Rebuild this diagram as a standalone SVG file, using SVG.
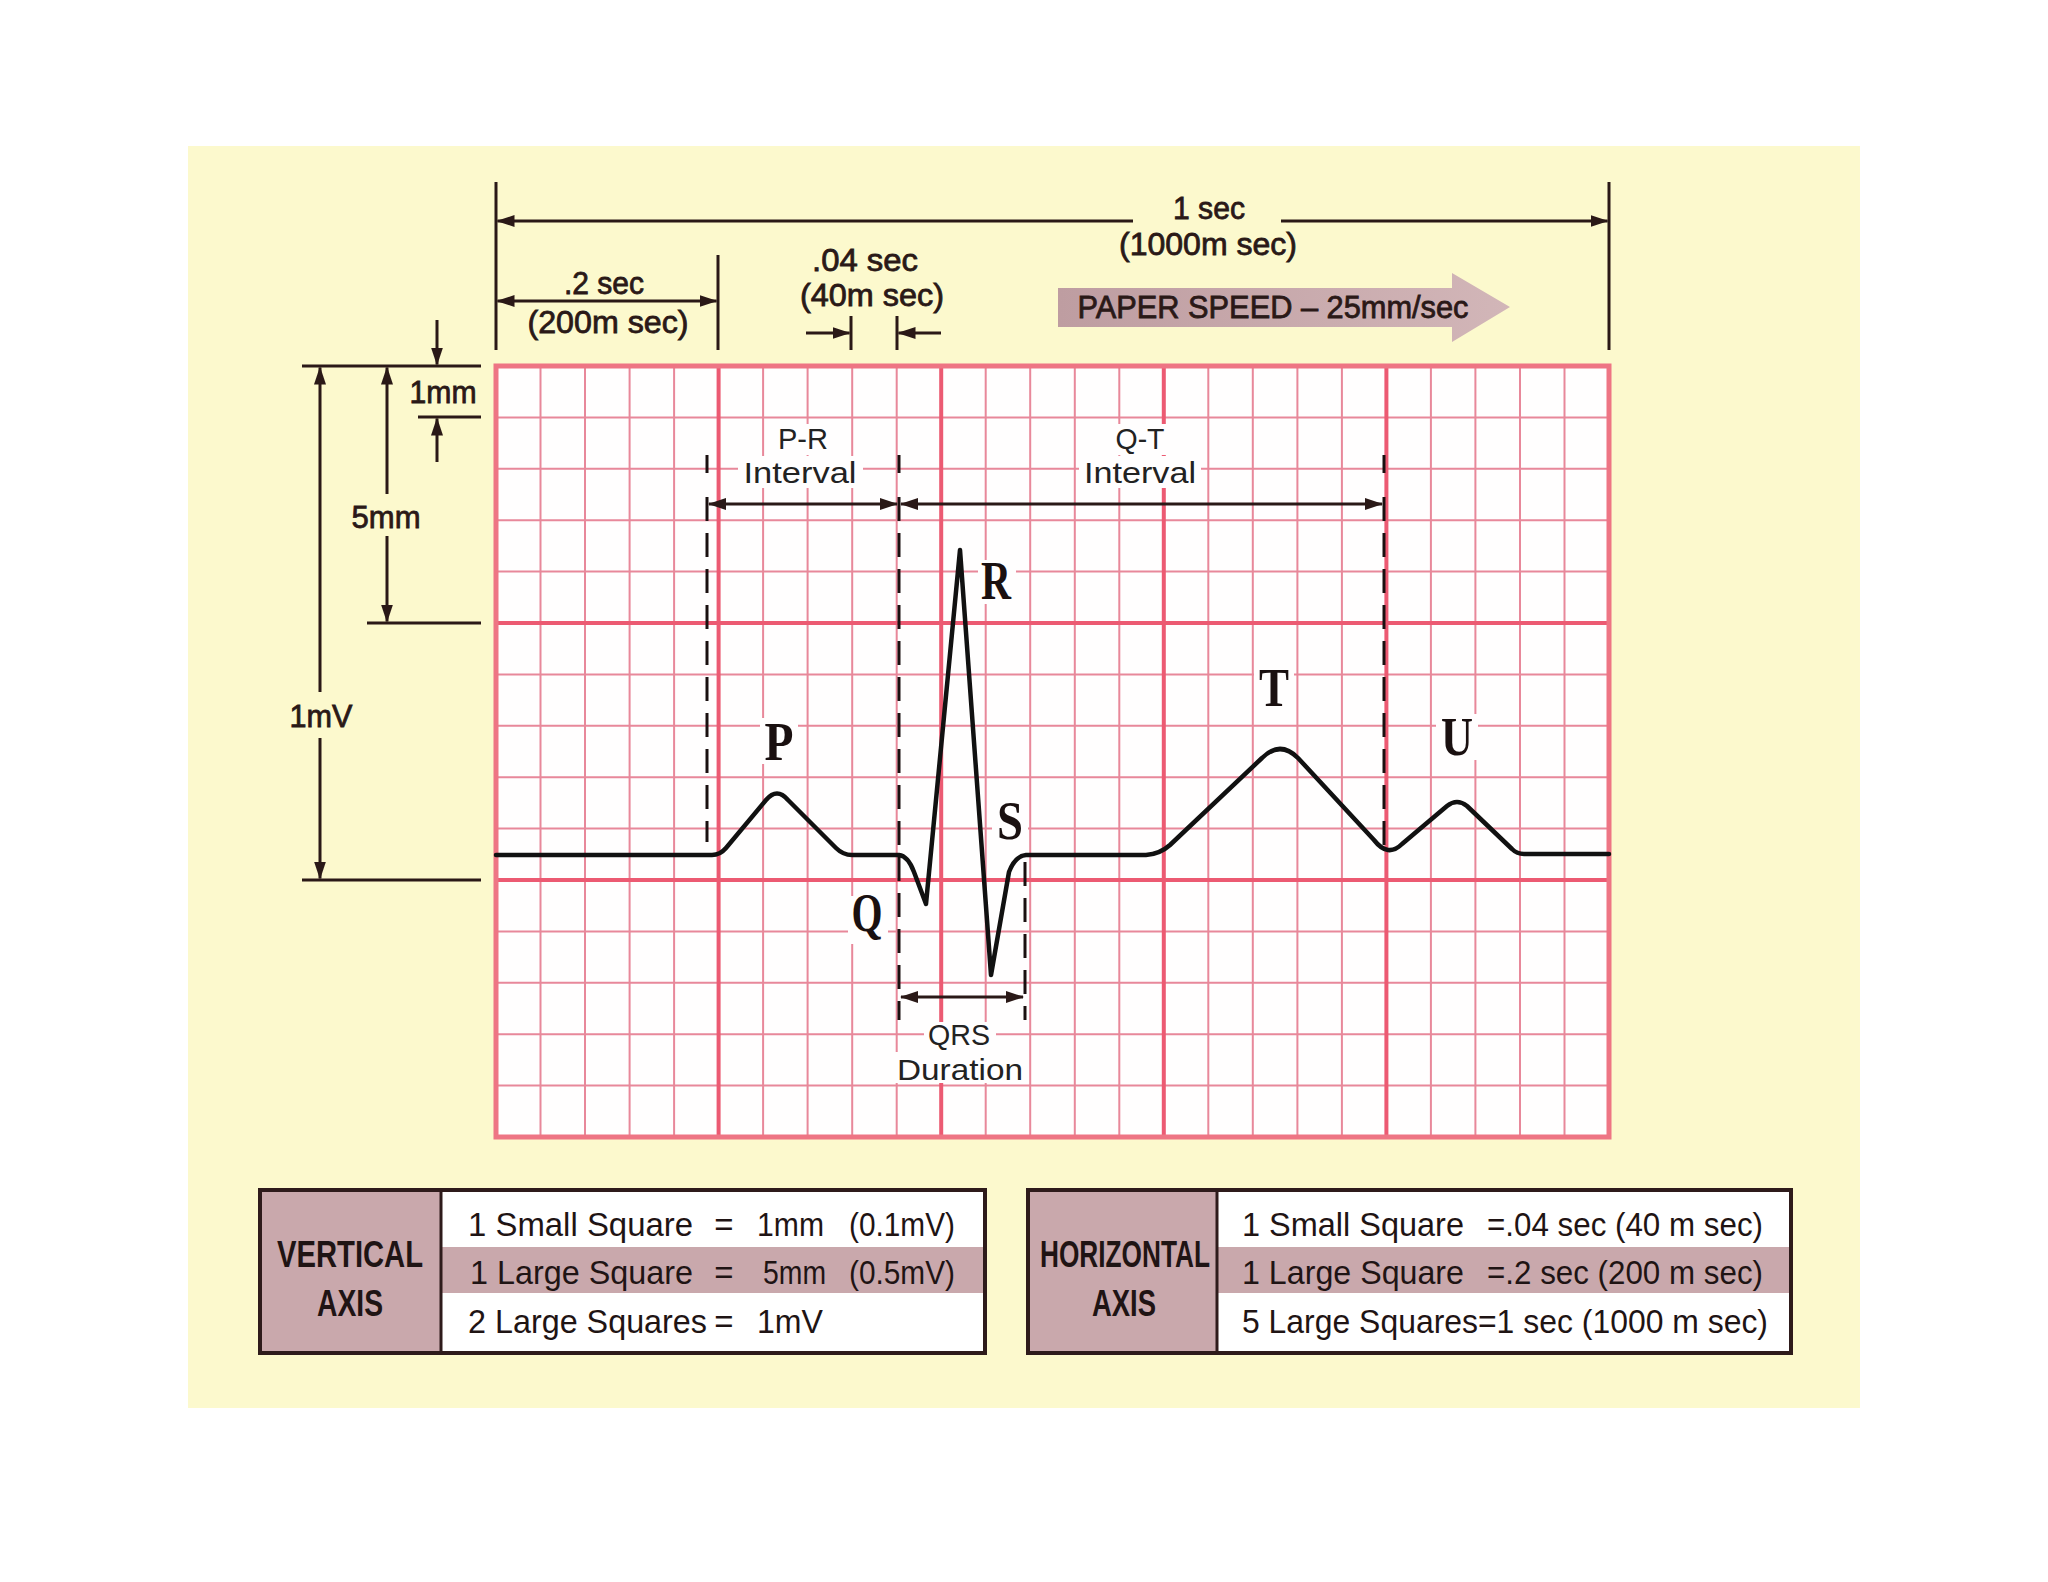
<svg xmlns="http://www.w3.org/2000/svg" width="2048" height="1582" viewBox="0 0 2048 1582">
<defs>
<style>
.dim{stroke:#2a1917;stroke-width:3;fill:none}
.dash{stroke:#1a1010;stroke-width:3;fill:none;stroke-dasharray:24 12}
.tick{stroke:#1a1010;stroke-width:3}
.sm{stroke:#E8889A;stroke-width:2;fill:none}
.lg{stroke:#EC5A72;stroke-width:4;fill:none}
.t{font-family:"Liberation Sans",Arial,sans-serif;fill:#2a1917;font-size:32px;stroke:#2a1917;stroke-width:0.8}
.lbl{font-family:"Liberation Sans",Arial,sans-serif;fill:#222;font-size:30px}
.wave{font-family:"Liberation Serif","Times New Roman",serif;font-weight:bold;fill:#1a1010;font-size:54px;text-anchor:middle}
.tb{font-family:"Liberation Sans",Arial,sans-serif;fill:#1f1414;font-size:33px}
.hd{font-family:"Liberation Sans",Arial,sans-serif;font-weight:bold;fill:#1f1414;font-size:36px;text-anchor:middle}
.mid{text-anchor:middle}
.bg{fill:#FFFEFE}
</style>
<marker id="ah" viewBox="0 0 18 12" refX="17" refY="6" markerWidth="18" markerHeight="12" markerUnits="userSpaceOnUse" orient="auto-start-reverse"><path d="M0,0 L18,6 L0,12 Z" fill="#2a1917"/></marker>
<linearGradient id="spd" x1="0" x2="1" y1="0" y2="0"><stop offset="0" stop-color="#BE9DA1"/><stop offset="1" stop-color="#D2B6B8"/></linearGradient>
</defs>

<rect x="0" y="0" width="2048" height="1582" fill="#FFFFFF"/>
<rect x="188" y="146" width="1672" height="1262" fill="#FCF9CD"/>

<!-- ECG paper grid -->
<g id="grid">
<rect x="496" y="366" width="1113" height="771" fill="#FFFEFE"/>
<path class="sm" d="M540.5 366V1137M585 366V1137M629.6 366V1137M674.1 366V1137M763.1 366V1137M807.6 366V1137M852.2 366V1137M896.7 366V1137M985.7 366V1137M1030.2 366V1137M1074.8 366V1137M1119.3 366V1137M1208.3 366V1137M1252.8 366V1137M1297.4 366V1137M1341.9 366V1137M1430.9 366V1137M1475.4 366V1137M1520 366V1137M1564.5 366V1137"/>
<path class="sm" d="M496 417.4H1609M496 468.8H1609M496 520.2H1609M496 571.6H1609M496 674.4H1609M496 725.8H1609M496 777.2H1609M496 828.6H1609M496 931.4H1609M496 982.8H1609M496 1034.2H1609M496 1085.6H1609"/>
<path class="lg" d="M718.6 366V1137M941.2 366V1137M1163.8 366V1137M1386.4 366V1137M496 623H1609M496 880H1609"/>
<rect x="496" y="366" width="1113" height="771" fill="none" stroke="#EE7584" stroke-width="5"/>
</g>

<!-- label backgrounds masking grid -->
<g id="label-bg">
<rect class="bg" x="774" y="424" width="58" height="31"/>
<rect class="bg" x="738" y="456" width="125" height="32"/>
<rect class="bg" x="1110" y="424" width="60" height="31"/>
<rect class="bg" x="1079" y="456" width="122" height="32"/>
<rect class="bg" x="760" y="718" width="38" height="46"/>
<rect class="bg" x="848" y="896" width="40" height="48"/>
<rect class="bg" x="978" y="560" width="38" height="44"/>
<rect class="bg" x="992" y="796" width="36" height="48"/>
<rect class="bg" x="1254" y="664" width="40" height="46"/>
<rect class="bg" x="1436" y="714" width="42" height="46"/>
<rect class="bg" x="924" y="1022" width="72" height="30"/>
<rect class="bg" x="893" y="1052" width="135" height="31"/>
</g>

<!-- connectors: dimension lines, arrows, interval markers -->
<g id="connectors">
<line class="dim" x1="496" y1="182" x2="496" y2="350"/>
<line class="dim" x1="1609" y1="182" x2="1609" y2="350"/>
<path class="dim" d="M497.5 221H1133" marker-start="url(#ah)"/>
<path class="dim" d="M1281 221H1607.5" marker-end="url(#ah)"/>
<line class="dim" x1="718" y1="255" x2="718" y2="350"/>
<path class="dim" d="M497.5 301H716.5" marker-start="url(#ah)" marker-end="url(#ah)"/>
<path class="dim" d="M806 333H849.5" marker-end="url(#ah)"/>
<line class="dim" x1="851" y1="316" x2="851" y2="350"/>
<line class="dim" x1="897" y1="316" x2="897" y2="350"/>
<path class="dim" d="M941 333H898.5" marker-end="url(#ah)"/>

<path class="dim" d="M302 366H481M367 623H481M302 880H481M418 417H481"/>
<path class="dim" d="M320 692V367.5" marker-end="url(#ah)"/>
<path class="dim" d="M320 738V878.5" marker-end="url(#ah)"/>
<path class="dim" d="M387 494V367.5" marker-end="url(#ah)"/>
<path class="dim" d="M387 536V621.5" marker-end="url(#ah)"/>
<path class="dim" d="M437 320V364.5" marker-end="url(#ah)"/>
<path class="dim" d="M437 462V418.5" marker-end="url(#ah)"/>

<path d="M1058 288H1452V273L1510 307L1452 342V327H1058Z" fill="url(#spd)"/>

<line class="tick" x1="707" y1="455" x2="707" y2="473"/>
<line class="tick" x1="899" y1="455" x2="899" y2="473"/>
<line class="tick" x1="1384" y1="455" x2="1384" y2="473"/>
<path class="dash" d="M707 497V842"/>
<path class="dash" d="M899 497V1020"/>
<path class="dash" d="M1025 862V1020"/>
<path class="dash" d="M1384 497V849"/>
<path class="dim" d="M709 504H897" marker-start="url(#ah)" marker-end="url(#ah)"/>
<path class="dim" d="M901 504H1382" marker-start="url(#ah)" marker-end="url(#ah)"/>
<path class="dim" d="M901 997H1023" marker-start="url(#ah)" marker-end="url(#ah)"/>
</g>

<!-- ECG trace -->
<g id="ecg-trace">
<path d="M496 855H712Q720 855 726 848L766 800Q777 787 788 800L836 848Q843 855 852 855H899Q908 856 914 872L926 904L960 550L991 975L1009 872Q1015 856 1026 855H1146Q1160 854 1170 845L1262 758Q1280 740 1298 758L1374 840Q1388 858 1402 844L1447 806Q1457 798 1467 806L1512 849Q1517 854 1524 854H1609" fill="none" stroke="#111" stroke-width="4.5" stroke-linejoin="round" stroke-linecap="round"/>
</g>

<!-- top labels -->
<g id="label-1sec">
<text class="t mid" x="1209" y="219" textLength="72" lengthAdjust="spacingAndGlyphs">1 sec</text>
<text class="t mid" x="1208" y="255" textLength="178" lengthAdjust="spacingAndGlyphs">(1000m sec)</text>
</g>
<g id="label-04sec">
<text class="t mid" x="865" y="271" textLength="106" lengthAdjust="spacingAndGlyphs">.04 sec</text>
<text class="t mid" x="872" y="306" textLength="144" lengthAdjust="spacingAndGlyphs">(40m sec)</text>
</g>
<g id="label-2sec">
<text class="t mid" x="604" y="294" textLength="80" lengthAdjust="spacingAndGlyphs">.2 sec</text>
<text class="t mid" x="608" y="333" textLength="161" lengthAdjust="spacingAndGlyphs">(200m sec)</text>
</g>
<g id="label-paper-speed">
<text class="t mid" x="1273" y="318" font-size="31" textLength="391" lengthAdjust="spacingAndGlyphs">PAPER SPEED – 25mm/sec</text>
</g>
<g id="label-1mm"><text class="t mid" x="443" y="403" textLength="67" lengthAdjust="spacingAndGlyphs">1mm</text></g>
<g id="label-5mm"><text class="t mid" x="386" y="528" textLength="69" lengthAdjust="spacingAndGlyphs">5mm</text></g>
<g id="label-1mv"><text class="t mid" x="321" y="727" textLength="63" lengthAdjust="spacingAndGlyphs">1mV</text></g>

<!-- interval labels -->
<g id="label-pr">
<text class="lbl mid" x="803" y="449" font-size="28" textLength="50" lengthAdjust="spacingAndGlyphs">P-R</text>
<text class="lbl mid" x="800" y="483" textLength="113" lengthAdjust="spacingAndGlyphs">Interval</text>
</g>
<g id="label-qt">
<text class="lbl mid" x="1140" y="449" font-size="28" textLength="49" lengthAdjust="spacingAndGlyphs">Q-T</text>
<text class="lbl mid" x="1140" y="483" textLength="112" lengthAdjust="spacingAndGlyphs">Interval</text>
</g>
<g id="label-qrs">
<text class="lbl mid" x="959" y="1045" font-size="28" textLength="62" lengthAdjust="spacingAndGlyphs">QRS</text>
<text class="lbl mid" x="960" y="1080" textLength="126" lengthAdjust="spacingAndGlyphs">Duration</text>
</g>

<!-- wave letters -->
<g id="wave-p"><text class="wave" x="779" y="760" textLength="29" lengthAdjust="spacingAndGlyphs">P</text></g>
<g id="wave-q"><text class="wave" x="867" y="931" textLength="31" lengthAdjust="spacingAndGlyphs">Q</text></g>
<g id="wave-r"><text class="wave" x="996" y="599" textLength="30" lengthAdjust="spacingAndGlyphs">R</text></g>
<g id="wave-s"><text class="wave" x="1010" y="839" textLength="26" lengthAdjust="spacingAndGlyphs">S</text></g>
<g id="wave-t"><text class="wave" x="1274" y="706" textLength="30" lengthAdjust="spacingAndGlyphs">T</text></g>
<g id="wave-u"><text class="wave" x="1457" y="755" textLength="32" lengthAdjust="spacingAndGlyphs">U</text></g>

<!-- vertical axis table -->
<g id="table-vertical">
<rect x="260" y="1190" width="725" height="163" fill="#FFFFFF"/>
<rect x="260" y="1190" width="181" height="163" fill="#C9A8AC"/>
<rect x="441" y="1247" width="544" height="46" fill="#C9A8AC"/>
<rect x="260" y="1190" width="725" height="163" fill="none" stroke="#2E1B1B" stroke-width="4"/>
<line x1="441" y1="1190" x2="441" y2="1353" stroke="#2E1B1B" stroke-width="3"/>
<text class="hd" x="350" y="1267" textLength="146" lengthAdjust="spacingAndGlyphs">VERTICAL</text>
<text class="hd" x="350" y="1316" textLength="66" lengthAdjust="spacingAndGlyphs">AXIS</text>
<text class="tb" x="468" y="1236" textLength="225" lengthAdjust="spacingAndGlyphs">1 Small Square</text>
<text class="tb mid" x="724" y="1236">=</text>
<text class="tb" x="757" y="1236" textLength="67" lengthAdjust="spacingAndGlyphs">1mm</text>
<text class="tb" x="849" y="1236" textLength="106" lengthAdjust="spacingAndGlyphs">(0.1mV)</text>
<text class="tb" x="470" y="1284" textLength="223" lengthAdjust="spacingAndGlyphs">1 Large Square</text>
<text class="tb mid" x="724" y="1284">=</text>
<text class="tb" x="763" y="1284" textLength="63" lengthAdjust="spacingAndGlyphs">5mm</text>
<text class="tb" x="849" y="1284" textLength="106" lengthAdjust="spacingAndGlyphs">(0.5mV)</text>
<text class="tb" x="468" y="1333" textLength="239" lengthAdjust="spacingAndGlyphs">2 Large Squares</text>
<text class="tb mid" x="724" y="1333">=</text>
<text class="tb" x="757" y="1333" textLength="66" lengthAdjust="spacingAndGlyphs">1mV</text>
</g>

<!-- horizontal axis table -->
<g id="table-horizontal">
<rect x="1028" y="1190" width="763" height="163" fill="#FFFFFF"/>
<rect x="1028" y="1190" width="189" height="163" fill="#C9A8AC"/>
<rect x="1217" y="1247" width="574" height="46" fill="#C9A8AC"/>
<rect x="1028" y="1190" width="763" height="163" fill="none" stroke="#2E1B1B" stroke-width="4"/>
<line x1="1217" y1="1190" x2="1217" y2="1353" stroke="#2E1B1B" stroke-width="3"/>
<text class="hd" x="1125" y="1267" textLength="170" lengthAdjust="spacingAndGlyphs">HORIZONTAL</text>
<text class="hd" x="1124" y="1316" textLength="64" lengthAdjust="spacingAndGlyphs">AXIS</text>
<text class="tb" x="1242" y="1236" textLength="222" lengthAdjust="spacingAndGlyphs">1 Small Square</text>
<text class="tb" x="1487" y="1236" textLength="276" lengthAdjust="spacingAndGlyphs">=.04 sec (40 m sec)</text>
<text class="tb" x="1242" y="1284" textLength="222" lengthAdjust="spacingAndGlyphs">1 Large Square</text>
<text class="tb" x="1487" y="1284" textLength="276" lengthAdjust="spacingAndGlyphs">=.2 sec (200 m sec)</text>
<text class="tb" x="1242" y="1333" textLength="526" lengthAdjust="spacingAndGlyphs">5 Large Squares=1 sec (1000 m sec)</text>
</g>
</svg>
